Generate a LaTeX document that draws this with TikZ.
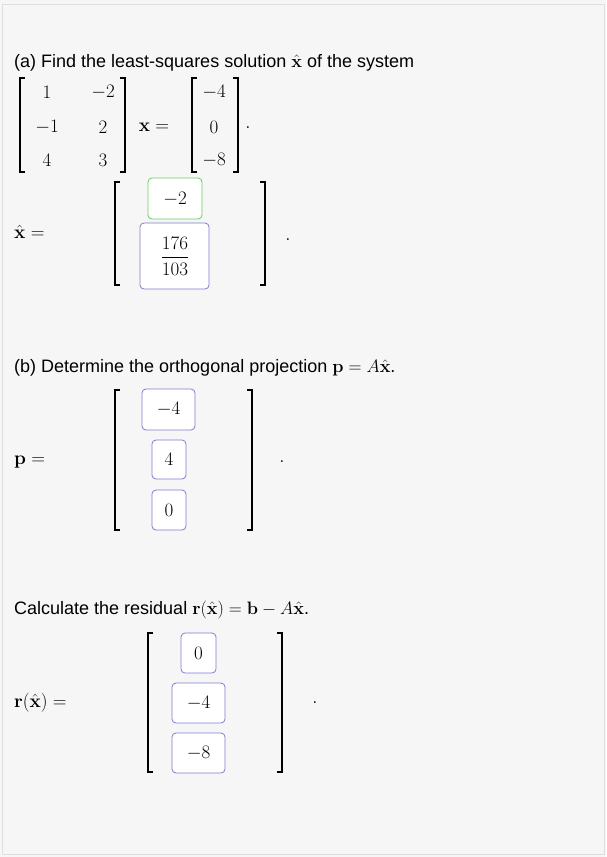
\RequirePackage{fix-cm}
\documentclass[tikz,border=0pt]{standalone}
\usepackage{amsmath}
\usepackage[no-math]{fontspec}
\setmainfont{Liberation Sans}
\begin{document}
\begin{tikzpicture}[x=1pt,y=-1pt,
  txt/.style={anchor=west,inner sep=0pt,font=\fontsize{18}{22}\selectfont},
  mth/.style={inner sep=0pt,font=\fontsize{19}{22}\selectfont},
  ans/.style={draw=blue!45!gray!70,line width=0.8pt,fill=white,rounded corners=4pt},
  ansg/.style={draw=green!50!gray!80,line width=0.8pt,fill=white,rounded corners=4pt},
  brk/.style={line width=1.4pt}]
\useasboundingbox (0,0) rectangle (606,857);
\fill[gray!7] (0,0) rectangle (606,857);
\draw[gray!25,line width=0.8pt] (2,4) rectangle (604,854);
% part (a)
\node[txt] (ta) at (14,63) {(a) Find the least-squares solution $\hat{\mathbf{x}}$ of the system};
\draw[brk] (25,78) -- (20,78) -- (20,172) -- (25,172);
\draw[brk] (120,78) -- (125,78) -- (125,172) -- (120,172);
\node[mth] (a11) at (47,92) {$1$};   \node[mth] (a12) at (103,92) {$-2$};
\node[mth] (a21) at (47,127) {$-1$}; \node[mth] (a22) at (103,127) {$2$};
\node[mth] (a31) at (47,160) {$4$};  \node[mth] (a32) at (103,160) {$3$};
\node[mth] (xeq) at (154,127) {$\mathbf{x}=$};
\draw[brk] (197,78) -- (192,78) -- (192,172) -- (197,172);
\draw[brk] (233,78) -- (238,78) -- (238,172) -- (233,172);
\node[mth] (b1) at (214,92) {$-4$};
\node[mth] (b2) at (214,127) {$0$};
\node[mth] (b3) at (214,160) {$-8$};
\node[mth] (dot1) at (248,128) {$.$};
\node[mth,anchor=west] (xh) at (14,232) {$\hat{\mathbf{x}}=$};
\draw[brk] (120,182) -- (115,182) -- (115,285) -- (120,285);
\draw[brk] (260,182) -- (265,182) -- (265,285) -- (260,285);
\draw[ansg] (148,178) rectangle (202,219);
\node[mth] (x1) at (175,199) {$-2$};
\draw[ans] (140,223) rectangle (209,289);
\node[mth] (x2) at (175,256) {$\dfrac{176}{103}$};
\node[mth] (dot2) at (288,240) {$.$};
% part (b)
\node[txt] (tb) at (14,368) {(b) Determine the orthogonal projection $\mathbf{p}=A\hat{\mathbf{x}}$.};
\node[mth,anchor=west] (pl) at (14,462) {$\mathbf{p}=$};
\draw[brk] (120,390) -- (115,390) -- (115,530) -- (120,530);
\draw[brk] (247,390) -- (252,390) -- (252,530) -- (247,530);
\draw[ans] (142,389) rectangle (195,430); \node[mth] (p1) at (168.5,409.5) {$-4$};
\draw[ans] (152,440) rectangle (186,479); \node[mth] (p2) at (169,459.5) {$4$};
\draw[ans] (152,490) rectangle (186,530); \node[mth] (p3) at (169,510) {$0$};
\node[mth] (dot3) at (282,462) {$.$};
% residual
\node[txt] (tc) at (14,610) {Calculate the residual $\mathbf{r}(\hat{\mathbf{x}})=\mathbf{b}-A\hat{\mathbf{x}}$.};
\node[mth,anchor=west] (rl) at (14,703) {$\mathbf{r}(\hat{\mathbf{x}})=$};
\draw[brk] (153,633) -- (148,633) -- (148,772) -- (153,772);
\draw[brk] (277,633) -- (282,633) -- (282,772) -- (277,772);
\draw[ans] (181,633) rectangle (216,673); \node[mth] (r1) at (198.5,653) {$0$};
\draw[ans] (172,683) rectangle (225,723); \node[mth] (r2) at (198.5,703) {$-4$};
\draw[ans] (172,733) rectangle (225,773); \node[mth] (r3) at (198.5,753) {$-8$};
\node[mth] (dot4) at (315,703) {$.$};
\end{tikzpicture}
\end{document}
